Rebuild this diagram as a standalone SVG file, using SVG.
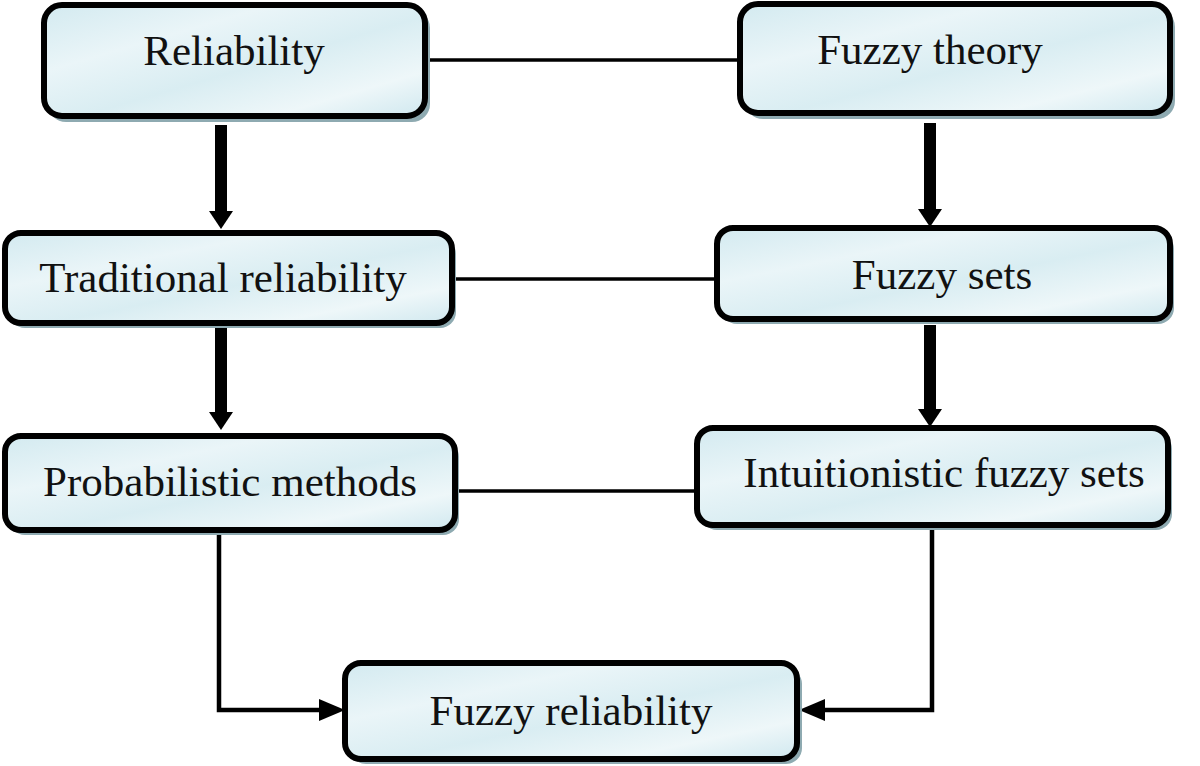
<svg xmlns="http://www.w3.org/2000/svg" width="1200" height="766" viewBox="0 0 1200 766">
<defs>
<linearGradient id="g" x1="0" y1="0" x2="1" y2="1">
<stop offset="0" stop-color="#d3eaf0"/>
<stop offset="0.3" stop-color="#eaf5f8"/>
<stop offset="0.55" stop-color="#d9edf2"/>
<stop offset="0.8" stop-color="#eef7f9"/>
<stop offset="1" stop-color="#d0e8ef"/>
</linearGradient>
</defs>
<style>
.sh{fill:#8eaab1}
.bx{fill:url(#g);stroke:#000;stroke-width:6}
.t{font-family:"Liberation Serif","Times New Roman",serif;font-size:43px;fill:#111;text-anchor:middle}
.ln{stroke:#000;stroke-width:3.5;fill:none}
.th{stroke:#000;stroke-width:12;fill:none}
.ar{stroke:#000;stroke-width:4.5;fill:none}
</style>
<rect width="1200" height="766" fill="#fff"/>
<g id="connectors">
<line class="ln" x1="425" y1="60" x2="740" y2="60"/>
<line class="ln" x1="452" y1="279" x2="717" y2="279"/>
<line class="ln" x1="457" y1="491" x2="697" y2="491"/>
<line class="th" x1="221" y1="125" x2="221" y2="212"/>
<path d="M209,211 L233,211 L221,229 Z"/>
<line class="th" x1="930" y1="123" x2="930" y2="210"/>
<path d="M918,209 L942,209 L930,227 Z"/>
<line class="th" x1="221" y1="328" x2="221" y2="413"/>
<path d="M209,412 L233,412 L221,430 Z"/>
<line class="th" x1="930" y1="325" x2="930" y2="410"/>
<path d="M918,409 L942,409 L930,427 Z"/>
<polyline class="ar" points="219,530 219,710 322,710"/>
<path d="M319,699 L345,710 L319,721 Z"/>
<polyline class="ar" points="932,530 932,710 822,710"/>
<path d="M825,699 L799,710 L825,721 Z"/>
</g>
<g id="n1">
<rect class="sh" x="48" y="10" width="382" height="112" rx="18"/>
<rect class="bx" x="44" y="5" width="381" height="111" rx="18"/>
<text class="t" x="234" y="65">Reliability</text>
</g>
<g id="n2">
<rect class="sh" x="745" y="9" width="430" height="110" rx="18"/>
<rect class="bx" x="740" y="4" width="430" height="109" rx="18"/>
<text class="t" x="930" y="64">Fuzzy theory</text>
</g>
<g id="n3">
<rect class="sh" x="9" y="238" width="447" height="90" rx="16"/>
<rect class="bx" x="5" y="233" width="447" height="90" rx="16"/>
<text class="t" x="223" y="292">Traditional reliability</text>
</g>
<g id="n4">
<rect class="sh" x="721" y="233" width="453" height="91" rx="16"/>
<rect class="bx" x="717" y="228" width="453" height="91" rx="16"/>
<text class="t" x="942" y="289">Fuzzy sets</text>
</g>
<g id="n5">
<rect class="sh" x="9" y="441" width="450" height="94" rx="16"/>
<rect class="bx" x="5" y="436" width="450" height="94" rx="16"/>
<text class="t" x="230" y="496">Probabilistic methods</text>
</g>
<g id="n6">
<rect class="sh" x="701" y="433" width="471" height="97" rx="16"/>
<rect class="bx" x="697" y="428" width="471" height="97" rx="16"/>
<text class="t" x="944" y="487">Intuitionistic fuzzy sets</text>
</g>
<g id="n7">
<rect class="sh" x="350" y="668" width="452" height="96" rx="16"/>
<rect class="bx" x="345" y="663" width="452" height="96" rx="16"/>
<text class="t" x="571" y="725">Fuzzy reliability</text>
</g>
</svg>
